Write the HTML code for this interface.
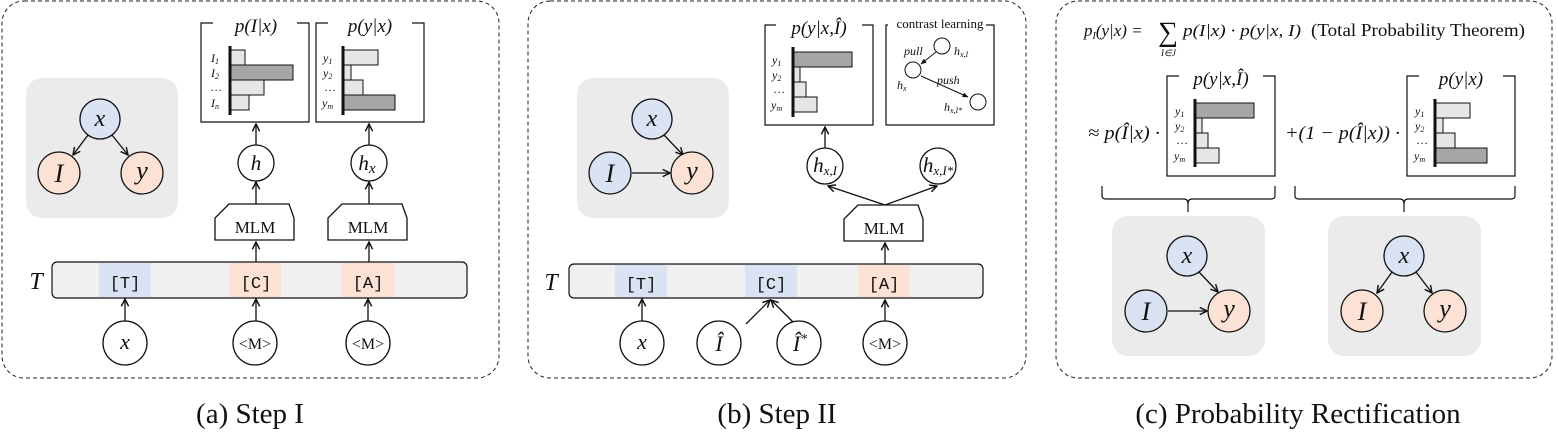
<!DOCTYPE html>
<html><head><meta charset="utf-8"><style>
html,body{margin:0;padding:0;background:#fff;}
svg{display:block;}
text{font-family:"Liberation Serif",serif;fill:#111;}
.it{font-style:italic;}
.mono{font-family:"Liberation Mono",monospace;}
</style></head><body>
<svg width="1558" height="434" viewBox="0 0 1558 434" xmlns="http://www.w3.org/2000/svg">
<defs>
<marker id="ah" viewBox="0 0 10 10" refX="9" refY="5" markerWidth="7" markerHeight="7" orient="auto-start-reverse">
<path d="M1,1 L9,5 L1,9" fill="none" stroke="#111" stroke-width="1.6"/></marker>
<marker id="af" viewBox="0 0 10 10" refX="9" refY="5" markerWidth="6" markerHeight="6" orient="auto">
<path d="M0,1 L10,5 L0,9z" fill="#111"/></marker>
</defs>
<g fill="none" stroke="#222" stroke-width="1" stroke-dasharray="4,3">
<rect x="2" y="1" width="497" height="377" rx="22"/>
<rect x="528" y="1" width="498" height="377" rx="22"/>
<rect x="1056" y="1" width="496" height="377" rx="22"/>
</g>
<!-- ===== Panel A ===== -->
<rect x="26" y="78" width="152" height="140" rx="16" fill="#ebebeb"/>
<g stroke="#111" stroke-width="1.3">
<line x1="88" y1="135" x2="73" y2="155" marker-end="url(#ah)"/>
<line x1="112" y1="135" x2="128" y2="155" marker-end="url(#ah)"/>
<circle cx="100" cy="119" r="20" fill="#dae3f3"/>
<circle cx="59" cy="173" r="21" fill="#fbe2d5"/>
<circle cx="142" cy="173" r="21" fill="#fbe2d5"/>
</g>
<text x="100" y="126" font-size="24" text-anchor="middle" class="it">x</text>
<text x="59" y="182" font-size="26" text-anchor="middle" class="it">I</text>
<text x="142" y="179" font-size="26" text-anchor="middle" class="it">y</text>

<g stroke="#111" stroke-width="1.2" fill="none">
<path d="M213,23 H201 V122 H309 V23 H297"/>
<path d="M328,23 H316 V122 H424 V23 H412"/>
</g>
<text x="256" y="32" font-size="19" text-anchor="middle" class="it">p(I|x)</text>
<text x="370" y="32" font-size="19" text-anchor="middle" class="it">p(y|x)</text>
<g stroke="#111" stroke-width="1">
<rect x="230" y="50" width="15" height="15" fill="#e6e6e6"/>
<rect x="230" y="65" width="63" height="15" fill="#a6a6a6"/>
<rect x="230" y="80" width="34" height="15" fill="#e6e6e6"/>
<rect x="230" y="95" width="19" height="15" fill="#e6e6e6"/>
<rect x="343" y="50" width="35" height="15" fill="#e6e6e6"/>
<rect x="343" y="65" width="8" height="15" fill="#e6e6e6"/>
<rect x="343" y="80" width="20" height="15" fill="#e6e6e6"/>
<rect x="343" y="95" width="52" height="15" fill="#a6a6a6"/>
</g>
<line x1="230" y1="46" x2="230" y2="115" stroke="#111" stroke-width="3"/>
<line x1="343" y1="46" x2="343" y2="115" stroke="#111" stroke-width="3"/>
<g font-size="12" class="it">
<text x="211" y="62">I<tspan font-size="8" dy="2">1</tspan></text>
<text x="211" y="77">I<tspan font-size="8" dy="2">2</tspan></text>
<text x="211" y="91">…</text>
<text x="211" y="107">I<tspan font-size="8" dy="2">n</tspan></text>
<text x="323" y="62">y<tspan font-size="8" dy="2">1</tspan></text>
<text x="323" y="77">y<tspan font-size="8" dy="2">2</tspan></text>
<text x="325" y="91">…</text>
<text x="322" y="107">y<tspan font-size="8" dy="2">m</tspan></text>
</g>
<g stroke="#111" stroke-width="1.3">
<line x1="256" y1="145" x2="256" y2="124" marker-end="url(#ah)"/>
<line x1="369" y1="145" x2="369" y2="124" marker-end="url(#ah)"/>
<line x1="256" y1="204" x2="256" y2="182" marker-end="url(#ah)"/>
<line x1="369" y1="204" x2="369" y2="182" marker-end="url(#ah)"/>
<line x1="256" y1="262" x2="256" y2="242" marker-end="url(#ah)"/>
<line x1="369" y1="262" x2="369" y2="242" marker-end="url(#ah)"/>
<line x1="125" y1="321" x2="125" y2="299" marker-end="url(#ah)"/>
<line x1="256" y1="321" x2="256" y2="299" marker-end="url(#ah)"/>
<line x1="368" y1="321" x2="368" y2="299" marker-end="url(#ah)"/>
<circle cx="256" cy="163" r="18" fill="#fff"/>
<circle cx="369" cy="163" r="18" fill="#fff"/>
<path d="M229,204 H289 L294,218 V240 H215 V218 Z" fill="#fff"/>
<path d="M342,204 H402 L407,218 V240 H328 V218 Z" fill="#fff"/>
</g>
<text x="256" y="170" font-size="21" text-anchor="middle" class="it">h</text>
<text x="367" y="170" font-size="21" text-anchor="middle" class="it">h<tspan font-size="15" dy="3">x</tspan></text>
<text x="255" y="233" font-size="17" text-anchor="middle">MLM</text>
<text x="368" y="233" font-size="17" text-anchor="middle">MLM</text>
<rect x="52" y="262" width="415" height="36" rx="5" fill="#f0f0f0" stroke="#111" stroke-width="1.2"/>
<rect x="99" y="263" width="52" height="34" fill="#dae3f3"/>
<rect x="230" y="263" width="51" height="34" fill="#fbe2d5"/>
<rect x="342" y="263" width="52" height="34" fill="#fbe2d5"/>
<text x="125" y="288" font-size="17" text-anchor="middle" class="mono">[T]</text>
<text x="256" y="288" font-size="17" text-anchor="middle" class="mono">[C]</text>
<text x="368" y="288" font-size="17" text-anchor="middle" class="mono">[A]</text>
<text x="36" y="289" font-size="24" text-anchor="middle" class="it">T</text>
<g stroke="#111" stroke-width="1.3" fill="#fff">
<circle cx="125" cy="343" r="22"/><circle cx="255" cy="343" r="22"/><circle cx="368" cy="343" r="22"/>
</g>
<text x="125" y="349" font-size="22" text-anchor="middle" class="it">x</text>
<text x="255" y="349" font-size="16" text-anchor="middle">&lt;M&gt;</text>
<text x="368" y="349" font-size="16" text-anchor="middle">&lt;M&gt;</text>
<text x="250" y="423" font-size="29" text-anchor="middle">(a)  Step I</text>

<!-- ===== Panel B ===== -->
<rect x="577" y="78" width="152" height="140" rx="16" fill="#ebebeb"/>
<g stroke="#111" stroke-width="1.3">
<line x1="664" y1="135" x2="683" y2="155" marker-end="url(#ah)"/>
<line x1="632" y1="173" x2="670" y2="173" marker-end="url(#ah)"/>
<circle cx="652" cy="119" r="20" fill="#dae3f3"/>
<circle cx="610" cy="173" r="21" fill="#dae3f3"/>
<circle cx="692" cy="173" r="21" fill="#fbe2d5"/>
</g>
<text x="652" y="126" font-size="24" text-anchor="middle" class="it">x</text>
<text x="610" y="182" font-size="26" text-anchor="middle" class="it">I</text>
<text x="692" y="179" font-size="26" text-anchor="middle" class="it">y</text>
<g stroke="#111" stroke-width="1.2" fill="none">
<path d="M776,25 H765 V125 H873 V25 H862"/>
<path d="M888,25 H886 V125 H994 V25 H986"/>
</g>
<text x="819" y="34" font-size="19" text-anchor="middle" class="it">p(y|x,Î)</text>
<text x="940" y="28" font-size="13" text-anchor="middle">contrast learning</text>
<g stroke="#111" stroke-width="1">
<rect x="793" y="52" width="59" height="15" fill="#a6a6a6"/>
<rect x="793" y="67" width="7" height="15" fill="#e6e6e6"/>
<rect x="793" y="82" width="13" height="15" fill="#e6e6e6"/>
<rect x="793" y="97" width="24" height="15" fill="#e6e6e6"/>
</g>
<line x1="793" y1="47" x2="793" y2="117" stroke="#111" stroke-width="3"/>
<g font-size="12" class="it">
<text x="772" y="64">y<tspan font-size="8" dy="2">1</tspan></text>
<text x="772" y="79">y<tspan font-size="8" dy="2">2</tspan></text>
<text x="774" y="93">…</text>
<text x="771" y="109">y<tspan font-size="8" dy="2">m</tspan></text>
</g>
<g stroke="#111" stroke-width="1">
<circle cx="942" cy="46" r="8" fill="#fff"/>
<circle cx="913" cy="70" r="8" fill="#fff"/>
<circle cx="978" cy="102" r="8" fill="#fff"/>
<line x1="936" y1="52" x2="921" y2="64" marker-end="url(#af)"/>
<line x1="921" y1="76" x2="968" y2="97" marker-end="url(#af)"/>
</g>
<g font-size="12" class="it">
<text x="904" y="55">pull</text>
<text x="954" y="55">h<tspan font-size="8" dy="2">x,I</tspan></text>
<text x="897" y="89">h<tspan font-size="8" dy="2">x</tspan></text>
<text x="937" y="84">push</text>
<text x="944" y="111">h<tspan font-size="8" dy="2">x,I*</tspan></text>
</g>
<g stroke="#111" stroke-width="1.3">
<line x1="825" y1="148" x2="825" y2="127" marker-end="url(#ah)"/>
<line x1="885" y1="205" x2="828" y2="186" marker-end="url(#ah)"/>
<line x1="885" y1="205" x2="937" y2="186" marker-end="url(#ah)"/>
<line x1="885" y1="264" x2="885" y2="243" marker-end="url(#ah)"/>
<line x1="642" y1="321" x2="642" y2="299" marker-end="url(#ah)"/>
<line x1="746" y1="324" x2="770" y2="300" marker-end="url(#ah)"/>
<line x1="795" y1="324" x2="771" y2="300" marker-end="url(#ah)"/>
<line x1="885" y1="321" x2="885" y2="300" marker-end="url(#ah)"/>
<circle cx="825" cy="166" r="18" fill="#fff"/>
<circle cx="938" cy="166" r="18" fill="#fff"/>
<path d="M858,205 H918 L923,219 V241 H844 V219 Z" fill="#fff"/>
</g>
<text x="825" y="172" font-size="21" text-anchor="middle" class="it">h<tspan font-size="13" dy="3">x,I</tspan></text>
<text x="938" y="172" font-size="21" text-anchor="middle" class="it">h<tspan font-size="13" dy="3">x,I*</tspan></text>
<text x="884" y="234" font-size="17" text-anchor="middle">MLM</text>
<rect x="569" y="264" width="414" height="34" rx="5" fill="#f0f0f0" stroke="#111" stroke-width="1.2"/>
<rect x="615" y="265" width="52" height="32" fill="#dae3f3"/>
<rect x="745" y="265" width="52" height="32" fill="#dae3f3"/>
<rect x="858" y="265" width="52" height="32" fill="#fbe2d5"/>
<text x="641" y="289" font-size="17" text-anchor="middle" class="mono">[T]</text>
<text x="771" y="289" font-size="17" text-anchor="middle" class="mono">[C]</text>
<text x="884" y="289" font-size="17" text-anchor="middle" class="mono">[A]</text>
<text x="551" y="290" font-size="24" text-anchor="middle" class="it">T</text>
<g stroke="#111" stroke-width="1.3" fill="#fff">
<circle cx="642" cy="343" r="22"/><circle cx="719" cy="343" r="22"/><circle cx="799" cy="343" r="22"/><circle cx="885" cy="343" r="22"/>
</g>
<text x="642" y="349" font-size="22" text-anchor="middle" class="it">x</text>
<text x="719" y="351" font-size="22" text-anchor="middle" class="it">Î</text>
<text x="800" y="351" font-size="22" text-anchor="middle" class="it">Î<tspan font-size="14" dy="-8">*</tspan></text>
<text x="885" y="349" font-size="16" text-anchor="middle">&lt;M&gt;</text>
<text x="777" y="423" font-size="29" text-anchor="middle">(b)  Step II</text>

<!-- ===== Panel C ===== -->
<text x="1084" y="36" font-size="17" class="it">p<tspan font-size="10" dy="3">I</tspan><tspan dy="-3">(y|x) =</tspan></text>
<text x="1158" y="41" font-size="28">∑</text>
<text x="1161" y="56" font-size="9" class="it">I∈J</text>
<text x="1183" y="36" font-size="17" class="it" textLength="118" lengthAdjust="spacingAndGlyphs">p(I|x) · p(y|x, I)</text>
<text x="1311" y="36" font-size="17.5" textLength="214" lengthAdjust="spacingAndGlyphs">(Total Probability Theorem)</text>
<g stroke="#111" stroke-width="1.2" fill="none">
<path d="M1179,76 H1167 V176 H1275 V76 H1263"/>
<path d="M1419,76 H1407 V176 H1515 V76 H1503"/>
</g>
<text x="1221" y="85" font-size="19" text-anchor="middle" class="it">p(y|x,Î)</text>
<text x="1461" y="85" font-size="19" text-anchor="middle" class="it">p(y|x)</text>
<g stroke="#111" stroke-width="1">
<rect x="1195" y="103" width="59" height="15" fill="#a6a6a6"/>
<rect x="1195" y="118" width="7" height="15" fill="#e6e6e6"/>
<rect x="1195" y="133" width="13" height="15" fill="#e6e6e6"/>
<rect x="1195" y="148" width="24" height="15" fill="#e6e6e6"/>
<rect x="1435" y="103" width="35" height="15" fill="#e6e6e6"/>
<rect x="1435" y="118" width="8" height="15" fill="#e6e6e6"/>
<rect x="1435" y="133" width="20" height="15" fill="#e6e6e6"/>
<rect x="1435" y="148" width="52" height="15" fill="#a6a6a6"/>
</g>
<line x1="1195" y1="99" x2="1195" y2="167" stroke="#111" stroke-width="3"/>
<line x1="1435" y1="99" x2="1435" y2="167" stroke="#111" stroke-width="3"/>
<g font-size="12" class="it">
<text x="1175" y="115">y<tspan font-size="8" dy="2">1</tspan></text>
<text x="1175" y="130">y<tspan font-size="8" dy="2">2</tspan></text>
<text x="1177" y="144">…</text>
<text x="1174" y="160">y<tspan font-size="8" dy="2">m</tspan></text>
<text x="1415" y="115">y<tspan font-size="8" dy="2">1</tspan></text>
<text x="1415" y="130">y<tspan font-size="8" dy="2">2</tspan></text>
<text x="1417" y="144">…</text>
<text x="1414" y="160">y<tspan font-size="8" dy="2">m</tspan></text>
</g>
<text x="1088" y="139" font-size="19" class="it" textLength="72" lengthAdjust="spacingAndGlyphs">≈ p(Î|x) ·</text>
<text x="1285" y="139" font-size="19" class="it" textLength="115" lengthAdjust="spacingAndGlyphs">+(1 − p(Î|x)) ·</text>
<g stroke="#111" stroke-width="1.2" fill="none">
<path d="M1102,186 V196 Q1102,199 1106,199 H1184 Q1188,199 1188,204 V212 M1188,204 Q1188,199 1192,199 H1271 Q1275,199 1275,196 V186"/>
<path d="M1295,186 V196 Q1295,199 1299,199 H1400 Q1404,199 1404,204 V212 M1404,204 Q1404,199 1408,199 H1511 Q1515,199 1515,196 V186"/>
</g>
<rect x="1112" y="216" width="153" height="140" rx="16" fill="#ebebeb"/>
<rect x="1328" y="216" width="153" height="140" rx="16" fill="#ebebeb"/>
<g stroke="#111" stroke-width="1.3">
<line x1="1199" y1="272" x2="1218" y2="292" marker-end="url(#ah)"/>
<line x1="1168" y1="311" x2="1207" y2="311" marker-end="url(#ah)"/>
<circle cx="1187" cy="256" r="20" fill="#dae3f3"/>
<circle cx="1146" cy="311" r="21" fill="#dae3f3"/>
<circle cx="1229" cy="311" r="21" fill="#fbe2d5"/>
<line x1="1392" y1="272" x2="1377" y2="293" marker-end="url(#ah)"/>
<line x1="1416" y1="272" x2="1432" y2="293" marker-end="url(#ah)"/>
<circle cx="1404" cy="256" r="20" fill="#dae3f3"/>
<circle cx="1362" cy="311" r="21" fill="#fbe2d5"/>
<circle cx="1445" cy="311" r="21" fill="#fbe2d5"/>
</g>
<g font-size="24" text-anchor="middle" class="it">
<text x="1187" y="263">x</text><text x="1146" y="320" font-size="26">I</text><text x="1229" y="317" font-size="26">y</text>
<text x="1404" y="263">x</text><text x="1362" y="320" font-size="26">I</text><text x="1445" y="317" font-size="26">y</text>
</g>
<text x="1298" y="423" font-size="29" text-anchor="middle">(c)  Probability Rectification</text>
</svg>
</body></html>
